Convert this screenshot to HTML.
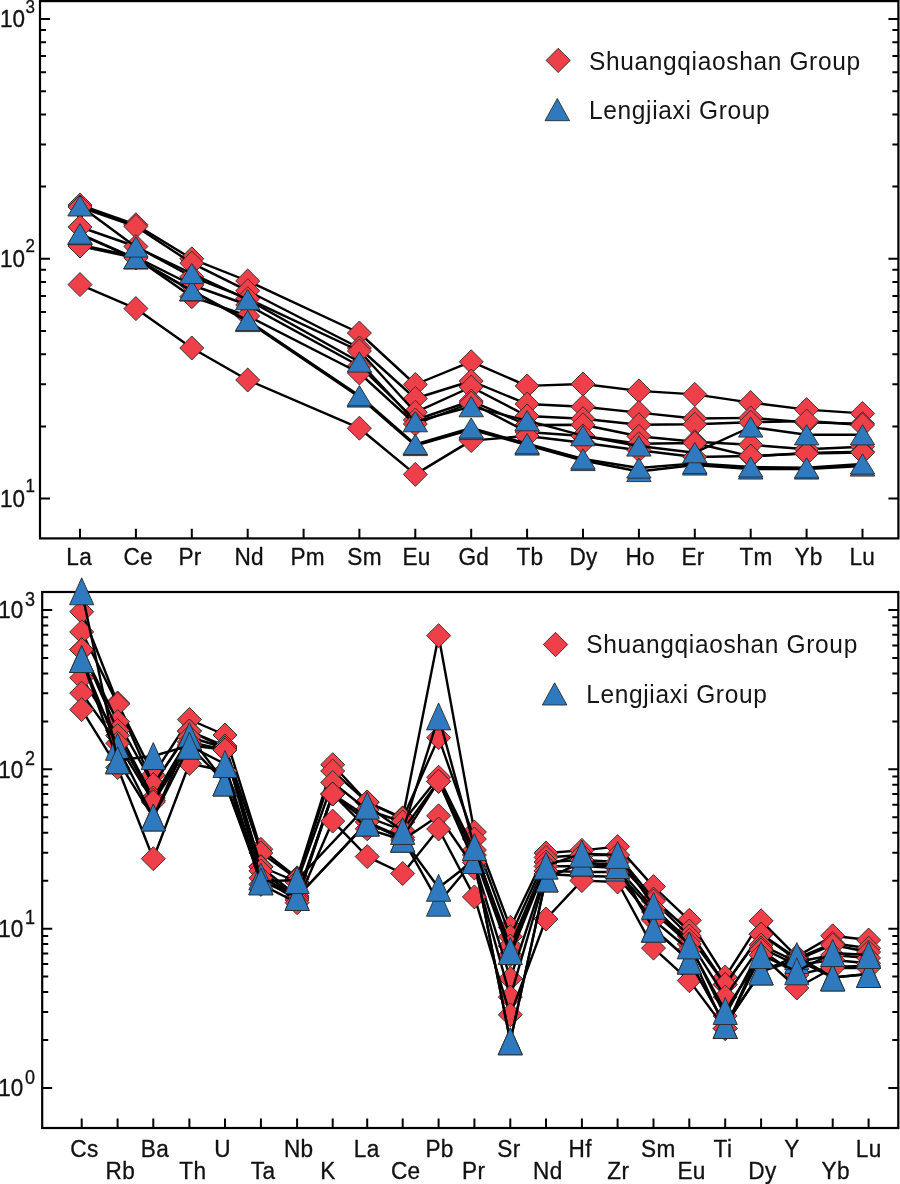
<!DOCTYPE html>
<html><head><meta charset="utf-8"><title>REE and spider diagrams</title>
<style>html,body{margin:0;padding:0;background:#fff;width:900px;height:1184px;overflow:hidden}</style>
</head><body>
<svg width="900" height="1184" viewBox="0 0 900 1184" style="position:absolute;left:0;top:0">
<rect width="900" height="1184" fill="#fff"/>
<rect x="40.0" y="1.1" width="858.4" height="537.3" fill="none" stroke="#000" stroke-width="2.2"/>
<path d="M40.0 498.6h10M898.4 498.6h-10M40.0 258.8h10M898.4 258.8h-10M40.0 19.0h10M898.4 19.0h-10M40.0 426.4h6M898.4 426.4h-6M40.0 384.2h6M898.4 384.2h-6M40.0 354.2h6M898.4 354.2h-6M40.0 331.0h6M898.4 331.0h-6M40.0 312.0h6M898.4 312.0h-6M40.0 295.9h6M898.4 295.9h-6M40.0 282.0h6M898.4 282.0h-6M40.0 269.8h6M898.4 269.8h-6M40.0 186.6h6M898.4 186.6h-6M40.0 144.4h6M898.4 144.4h-6M40.0 114.4h6M898.4 114.4h-6M40.0 91.2h6M898.4 91.2h-6M40.0 72.2h6M898.4 72.2h-6M40.0 56.1h6M898.4 56.1h-6M40.0 42.2h6M898.4 42.2h-6M40.0 30.0h6M898.4 30.0h-6" stroke="#000" stroke-width="2" fill="none"/>
<path d="M80.0 538.4v-9.6M135.9 538.4v-9.6M191.8 538.4v-9.6M247.7 538.4v-9.6M303.6 538.4v-9.6M359.4 538.4v-9.6M415.3 538.4v-9.6M471.2 538.4v-9.6M527.1 538.4v-9.6M583.0 538.4v-9.6M638.9 538.4v-9.6M694.8 538.4v-9.6M750.7 538.4v-9.6M806.6 538.4v-9.6M862.5 538.4v-9.6" stroke="#000" stroke-width="2" fill="none"/>
<rect x="42.2" y="592.0" width="856.1" height="536.0" fill="none" stroke="#000" stroke-width="2.2"/>
<path d="M42.2 1088.0h10M898.3 1088.0h-10M42.2 928.7h10M898.3 928.7h-10M42.2 769.3h10M898.3 769.3h-10M42.2 610.0h10M898.3 610.0h-10M42.2 1040.0h6M898.3 1040.0h-6M42.2 1012.0h6M898.3 1012.0h-6M42.2 992.1h6M898.3 992.1h-6M42.2 976.6h6M898.3 976.6h-6M42.2 964.0h6M898.3 964.0h-6M42.2 953.4h6M898.3 953.4h-6M42.2 944.1h6M898.3 944.1h-6M42.2 936.0h6M898.3 936.0h-6M42.2 880.7h6M898.3 880.7h-6M42.2 852.7h6M898.3 852.7h-6M42.2 832.7h6M898.3 832.7h-6M42.2 817.3h6M898.3 817.3h-6M42.2 804.7h6M898.3 804.7h-6M42.2 794.0h6M898.3 794.0h-6M42.2 784.8h6M898.3 784.8h-6M42.2 776.6h6M898.3 776.6h-6M42.2 721.4h6M898.3 721.4h-6M42.2 693.3h6M898.3 693.3h-6M42.2 673.4h6M898.3 673.4h-6M42.2 658.0h6M898.3 658.0h-6M42.2 645.4h6M898.3 645.4h-6M42.2 634.7h6M898.3 634.7h-6M42.2 625.5h6M898.3 625.5h-6M42.2 617.3h6M898.3 617.3h-6" stroke="#000" stroke-width="2" fill="none"/>
<path d="M81.7 1128.0v-9.6M117.6 1128.0v-9.6M153.3 1128.0v-9.6M189.4 1128.0v-9.6M225.0 1128.0v-9.6M260.9 1128.0v-9.6M297.1 1128.0v-9.6M332.7 1128.0v-9.6M367.2 1128.0v-9.6M402.7 1128.0v-9.6M438.6 1128.0v-9.6M474.4 1128.0v-9.6M510.3 1128.0v-9.6M546.0 1128.0v-9.6M581.9 1128.0v-9.6M617.6 1128.0v-9.6M653.5 1128.0v-9.6M689.3 1128.0v-9.6M725.2 1128.0v-9.6M761.1 1128.0v-9.6M796.8 1128.0v-9.6M832.7 1128.0v-9.6M868.6 1128.0v-9.6" stroke="#000" stroke-width="2" fill="none"/>
<g font-family="'Liberation Sans', Arial, Helvetica, sans-serif" fill="#111" stroke="#111" stroke-width="0.3">
<text transform="translate(25.00,506.70) scale(1,1.08)" font-size="22.5" text-anchor="end">10</text><text transform="translate(25.40,492.20) scale(1,1.08)" font-size="17" >1</text>
<text transform="translate(25.00,266.90) scale(1,1.08)" font-size="22.5" text-anchor="end">10</text><text transform="translate(25.40,252.40) scale(1,1.08)" font-size="17" >2</text>
<text transform="translate(25.00,27.10) scale(1,1.08)" font-size="22.5" text-anchor="end">10</text><text transform="translate(25.40,12.60) scale(1,1.08)" font-size="17" >3</text>
<text transform="translate(23.30,1096.30) scale(1,1.08)" font-size="22.5" text-anchor="end">10</text><text transform="translate(25.10,1083.50) scale(1,1.08)" font-size="18" >0</text>
<text transform="translate(23.30,936.97) scale(1,1.08)" font-size="22.5" text-anchor="end">10</text><text transform="translate(25.10,924.17) scale(1,1.08)" font-size="18" >1</text>
<text transform="translate(23.30,777.64) scale(1,1.08)" font-size="22.5" text-anchor="end">10</text><text transform="translate(25.10,764.84) scale(1,1.08)" font-size="18" >2</text>
<text transform="translate(23.30,618.31) scale(1,1.08)" font-size="22.5" text-anchor="end">10</text><text transform="translate(25.10,605.51) scale(1,1.08)" font-size="18" >3</text>
<text transform="translate(66.30,564.90) scale(1,1.07)" font-size="22.6" letter-spacing="0.4">La</text>
<text transform="translate(123.40,564.90) scale(1,1.07)" font-size="22.6" letter-spacing="0.4">Ce</text>
<text transform="translate(178.40,564.90) scale(1,1.07)" font-size="22.6" letter-spacing="0.4">Pr</text>
<text transform="translate(234.40,564.90) scale(1,1.07)" font-size="22.6" letter-spacing="0.4">Nd</text>
<text transform="translate(290.40,564.90) scale(1,1.07)" font-size="22.6" letter-spacing="0.4">Pm</text>
<text transform="translate(347.30,564.90) scale(1,1.07)" font-size="22.6" letter-spacing="0.4">Sm</text>
<text transform="translate(402.40,564.90) scale(1,1.07)" font-size="22.6" letter-spacing="0.4">Eu</text>
<text transform="translate(458.40,564.90) scale(1,1.07)" font-size="22.6" letter-spacing="0.4">Gd</text>
<text transform="translate(516.40,564.90) scale(1,1.07)" font-size="22.6" letter-spacing="0.4">Tb</text>
<text transform="translate(569.40,564.90) scale(1,1.07)" font-size="22.6" letter-spacing="0.4">Dy</text>
<text transform="translate(625.40,564.90) scale(1,1.07)" font-size="22.6" letter-spacing="0.4">Ho</text>
<text transform="translate(681.40,564.90) scale(1,1.07)" font-size="22.6" letter-spacing="0.4">Er</text>
<text transform="translate(739.40,564.90) scale(1,1.07)" font-size="22.6" letter-spacing="0.4">Tm</text>
<text transform="translate(794.40,564.90) scale(1,1.07)" font-size="22.6" letter-spacing="0.4">Yb</text>
<text transform="translate(849.40,564.90) scale(1,1.07)" font-size="22.6" letter-spacing="0.4">Lu</text>
<text transform="translate(70.20,1157.00) scale(1,1.07)" font-size="22.6" letter-spacing="0.4">Cs</text>
<text transform="translate(105.60,1179.00) scale(1,1.07)" font-size="22.6" letter-spacing="0.4">Rb</text>
<text transform="translate(140.80,1157.00) scale(1,1.07)" font-size="22.6" letter-spacing="0.4">Ba</text>
<text transform="translate(179.20,1179.00) scale(1,1.07)" font-size="22.6" letter-spacing="0.4">Th</text>
<text transform="translate(214.30,1157.00) scale(1,1.07)" font-size="22.6" letter-spacing="0.4">U</text>
<text transform="translate(250.70,1179.00) scale(1,1.07)" font-size="22.6" letter-spacing="0.4">Ta</text>
<text transform="translate(283.90,1157.00) scale(1,1.07)" font-size="22.6" letter-spacing="0.4">Nb</text>
<text transform="translate(320.30,1179.00) scale(1,1.07)" font-size="22.6" letter-spacing="0.4">K</text>
<text transform="translate(353.80,1157.00) scale(1,1.07)" font-size="22.6" letter-spacing="0.4">La</text>
<text transform="translate(390.90,1179.00) scale(1,1.07)" font-size="22.6" letter-spacing="0.4">Ce</text>
<text transform="translate(425.40,1157.00) scale(1,1.07)" font-size="22.6" letter-spacing="0.4">Pb</text>
<text transform="translate(462.10,1179.00) scale(1,1.07)" font-size="22.6" letter-spacing="0.4">Pr</text>
<text transform="translate(497.30,1157.00) scale(1,1.07)" font-size="22.6" letter-spacing="0.4">Sr</text>
<text transform="translate(533.00,1179.00) scale(1,1.07)" font-size="22.6" letter-spacing="0.4">Nd</text>
<text transform="translate(568.50,1157.00) scale(1,1.07)" font-size="22.6" letter-spacing="0.4">Hf</text>
<text transform="translate(607.20,1179.00) scale(1,1.07)" font-size="22.6" letter-spacing="0.4">Zr</text>
<text transform="translate(641.00,1157.00) scale(1,1.07)" font-size="22.6" letter-spacing="0.4">Sm</text>
<text transform="translate(677.40,1179.00) scale(1,1.07)" font-size="22.6" letter-spacing="0.4">Eu</text>
<text transform="translate(713.60,1157.00) scale(1,1.07)" font-size="22.6" letter-spacing="0.4">Ti</text>
<text transform="translate(748.30,1179.00) scale(1,1.07)" font-size="22.6" letter-spacing="0.4">Dy</text>
<text transform="translate(784.20,1157.00) scale(1,1.07)" font-size="22.6" letter-spacing="0.4">Y</text>
<text transform="translate(821.50,1179.00) scale(1,1.07)" font-size="22.6" letter-spacing="0.4">Yb</text>
<text transform="translate(855.70,1157.00) scale(1,1.07)" font-size="22.6" letter-spacing="0.4">Lu</text>
</g>
<g font-family="'Liberation Sans', Arial, Helvetica, sans-serif" fill="#151515">
<text transform="translate(589.00,69.60) scale(1,1.035)" font-size="24.5" letter-spacing="0.65">Shuangqiaoshan Group</text>
<text transform="translate(589.00,119.00) scale(1,1.035)" font-size="24.5" letter-spacing="0.65">Lengjiaxi Group</text>
<text transform="translate(586.20,653.30) scale(1,1.035)" font-size="24.5" letter-spacing="0.65">Shuangqiaoshan Group</text>
<text transform="translate(586.20,703.30) scale(1,1.035)" font-size="24.5" letter-spacing="0.65">Lengjiaxi Group</text>
</g>
<path d="M546.1 60.4L558.2 48.3L570.3 60.4L558.2 72.5Z" fill="#ef4049" stroke="#2a2a2a" stroke-width="0.9"/>
<path d="M557.3 98.5L569.5 120.7L545.0 120.7Z" fill="#2f79be" stroke="#2a2a2a" stroke-width="0.9" stroke-linejoin="miter"/>
<path d="M543.3 644.5L555.5 632.3L567.7 644.5L555.5 656.7Z" fill="#ef4049" stroke="#2a2a2a" stroke-width="0.9"/>
<path d="M554.6 682.8L566.9 705.0L542.4 705.0Z" fill="#2f79be" stroke="#2a2a2a" stroke-width="0.9" stroke-linejoin="miter"/>
<path d="M80.0 205.0L135.9 224.7L191.8 258.8L247.7 281.0L359.4 333.0L415.3 384.5L471.2 361.7L527.1 385.9L583.0 384.0L638.9 390.9L694.8 394.4L750.7 402.6L806.6 409.6L862.5 413.4" fill="none" stroke="#000" stroke-width="2.4" stroke-linejoin="round"/>
<path d="M68.0 205.0L80.0 193.0L92.0 205.0L80.0 217.0Z" fill="#ef4049" stroke="#2a2a2a" stroke-width="0.9"/>
<path d="M123.9 224.7L135.9 212.7L147.9 224.7L135.9 236.7Z" fill="#ef4049" stroke="#2a2a2a" stroke-width="0.9"/>
<path d="M179.8 258.8L191.8 246.8L203.8 258.8L191.8 270.8Z" fill="#ef4049" stroke="#2a2a2a" stroke-width="0.9"/>
<path d="M235.7 281.0L247.7 269.0L259.7 281.0L247.7 293.0Z" fill="#ef4049" stroke="#2a2a2a" stroke-width="0.9"/>
<path d="M347.4 333.0L359.4 321.0L371.4 333.0L359.4 345.0Z" fill="#ef4049" stroke="#2a2a2a" stroke-width="0.9"/>
<path d="M403.3 384.5L415.3 372.5L427.3 384.5L415.3 396.5Z" fill="#ef4049" stroke="#2a2a2a" stroke-width="0.9"/>
<path d="M459.2 361.7L471.2 349.7L483.2 361.7L471.2 373.7Z" fill="#ef4049" stroke="#2a2a2a" stroke-width="0.9"/>
<path d="M515.1 385.9L527.1 373.9L539.1 385.9L527.1 397.9Z" fill="#ef4049" stroke="#2a2a2a" stroke-width="0.9"/>
<path d="M571.0 384.0L583.0 372.0L595.0 384.0L583.0 396.0Z" fill="#ef4049" stroke="#2a2a2a" stroke-width="0.9"/>
<path d="M626.9 390.9L638.9 378.9L650.9 390.9L638.9 402.9Z" fill="#ef4049" stroke="#2a2a2a" stroke-width="0.9"/>
<path d="M682.8 394.4L694.8 382.4L706.8 394.4L694.8 406.4Z" fill="#ef4049" stroke="#2a2a2a" stroke-width="0.9"/>
<path d="M738.7 402.6L750.7 390.6L762.7 402.6L750.7 414.6Z" fill="#ef4049" stroke="#2a2a2a" stroke-width="0.9"/>
<path d="M794.6 409.6L806.6 397.6L818.6 409.6L806.6 421.6Z" fill="#ef4049" stroke="#2a2a2a" stroke-width="0.9"/>
<path d="M850.5 413.4L862.5 401.4L874.5 413.4L862.5 425.4Z" fill="#ef4049" stroke="#2a2a2a" stroke-width="0.9"/>
<path d="M80.0 207.0L135.9 226.5L191.8 263.1L247.7 290.8L359.4 348.0L415.3 398.5L471.2 381.0L527.1 404.0L583.0 406.7L638.9 412.6L694.8 418.5L750.7 417.9L806.6 422.4L862.5 423.7" fill="none" stroke="#000" stroke-width="2.4" stroke-linejoin="round"/>
<path d="M68.0 207.0L80.0 195.0L92.0 207.0L80.0 219.0Z" fill="#ef4049" stroke="#2a2a2a" stroke-width="0.9"/>
<path d="M123.9 226.5L135.9 214.5L147.9 226.5L135.9 238.5Z" fill="#ef4049" stroke="#2a2a2a" stroke-width="0.9"/>
<path d="M179.8 263.1L191.8 251.1L203.8 263.1L191.8 275.1Z" fill="#ef4049" stroke="#2a2a2a" stroke-width="0.9"/>
<path d="M235.7 290.8L247.7 278.8L259.7 290.8L247.7 302.8Z" fill="#ef4049" stroke="#2a2a2a" stroke-width="0.9"/>
<path d="M347.4 348.0L359.4 336.0L371.4 348.0L359.4 360.0Z" fill="#ef4049" stroke="#2a2a2a" stroke-width="0.9"/>
<path d="M403.3 398.5L415.3 386.5L427.3 398.5L415.3 410.5Z" fill="#ef4049" stroke="#2a2a2a" stroke-width="0.9"/>
<path d="M459.2 381.0L471.2 369.0L483.2 381.0L471.2 393.0Z" fill="#ef4049" stroke="#2a2a2a" stroke-width="0.9"/>
<path d="M515.1 404.0L527.1 392.0L539.1 404.0L527.1 416.0Z" fill="#ef4049" stroke="#2a2a2a" stroke-width="0.9"/>
<path d="M571.0 406.7L583.0 394.7L595.0 406.7L583.0 418.7Z" fill="#ef4049" stroke="#2a2a2a" stroke-width="0.9"/>
<path d="M626.9 412.6L638.9 400.6L650.9 412.6L638.9 424.6Z" fill="#ef4049" stroke="#2a2a2a" stroke-width="0.9"/>
<path d="M682.8 418.5L694.8 406.5L706.8 418.5L694.8 430.5Z" fill="#ef4049" stroke="#2a2a2a" stroke-width="0.9"/>
<path d="M738.7 417.9L750.7 405.9L762.7 417.9L750.7 429.9Z" fill="#ef4049" stroke="#2a2a2a" stroke-width="0.9"/>
<path d="M794.6 422.4L806.6 410.4L818.6 422.4L806.6 434.4Z" fill="#ef4049" stroke="#2a2a2a" stroke-width="0.9"/>
<path d="M850.5 423.7L862.5 411.7L874.5 423.7L862.5 435.7Z" fill="#ef4049" stroke="#2a2a2a" stroke-width="0.9"/>
<path d="M80.0 227.0L135.9 246.5L191.8 276.7L247.7 298.7L359.4 351.0L415.3 412.3L471.2 387.0L527.1 416.0L583.0 418.7L638.9 424.7L694.8 424.3L750.7 422.2L806.6 421.0L862.5 425.0" fill="none" stroke="#000" stroke-width="2.4" stroke-linejoin="round"/>
<path d="M68.0 227.0L80.0 215.0L92.0 227.0L80.0 239.0Z" fill="#ef4049" stroke="#2a2a2a" stroke-width="0.9"/>
<path d="M123.9 246.5L135.9 234.5L147.9 246.5L135.9 258.5Z" fill="#ef4049" stroke="#2a2a2a" stroke-width="0.9"/>
<path d="M179.8 276.7L191.8 264.7L203.8 276.7L191.8 288.7Z" fill="#ef4049" stroke="#2a2a2a" stroke-width="0.9"/>
<path d="M235.7 298.7L247.7 286.7L259.7 298.7L247.7 310.7Z" fill="#ef4049" stroke="#2a2a2a" stroke-width="0.9"/>
<path d="M347.4 351.0L359.4 339.0L371.4 351.0L359.4 363.0Z" fill="#ef4049" stroke="#2a2a2a" stroke-width="0.9"/>
<path d="M403.3 412.3L415.3 400.3L427.3 412.3L415.3 424.3Z" fill="#ef4049" stroke="#2a2a2a" stroke-width="0.9"/>
<path d="M459.2 387.0L471.2 375.0L483.2 387.0L471.2 399.0Z" fill="#ef4049" stroke="#2a2a2a" stroke-width="0.9"/>
<path d="M515.1 416.0L527.1 404.0L539.1 416.0L527.1 428.0Z" fill="#ef4049" stroke="#2a2a2a" stroke-width="0.9"/>
<path d="M571.0 418.7L583.0 406.7L595.0 418.7L583.0 430.7Z" fill="#ef4049" stroke="#2a2a2a" stroke-width="0.9"/>
<path d="M626.9 424.7L638.9 412.7L650.9 424.7L638.9 436.7Z" fill="#ef4049" stroke="#2a2a2a" stroke-width="0.9"/>
<path d="M682.8 424.3L694.8 412.3L706.8 424.3L694.8 436.3Z" fill="#ef4049" stroke="#2a2a2a" stroke-width="0.9"/>
<path d="M738.7 422.2L750.7 410.2L762.7 422.2L750.7 434.2Z" fill="#ef4049" stroke="#2a2a2a" stroke-width="0.9"/>
<path d="M794.6 421.0L806.6 409.0L818.6 421.0L806.6 433.0Z" fill="#ef4049" stroke="#2a2a2a" stroke-width="0.9"/>
<path d="M850.5 425.0L862.5 413.0L874.5 425.0L862.5 437.0Z" fill="#ef4049" stroke="#2a2a2a" stroke-width="0.9"/>
<path d="M80.0 244.6L135.9 257.0L191.8 285.0L247.7 305.0L359.4 366.0L415.3 420.0L471.2 401.0L527.1 425.0L583.0 424.8L638.9 436.3L694.8 441.7L750.7 444.8L806.6 449.2L862.5 446.7" fill="none" stroke="#000" stroke-width="2.4" stroke-linejoin="round"/>
<path d="M68.0 244.6L80.0 232.6L92.0 244.6L80.0 256.6Z" fill="#ef4049" stroke="#2a2a2a" stroke-width="0.9"/>
<path d="M123.9 257.0L135.9 245.0L147.9 257.0L135.9 269.0Z" fill="#ef4049" stroke="#2a2a2a" stroke-width="0.9"/>
<path d="M179.8 285.0L191.8 273.0L203.8 285.0L191.8 297.0Z" fill="#ef4049" stroke="#2a2a2a" stroke-width="0.9"/>
<path d="M235.7 305.0L247.7 293.0L259.7 305.0L247.7 317.0Z" fill="#ef4049" stroke="#2a2a2a" stroke-width="0.9"/>
<path d="M347.4 366.0L359.4 354.0L371.4 366.0L359.4 378.0Z" fill="#ef4049" stroke="#2a2a2a" stroke-width="0.9"/>
<path d="M403.3 420.0L415.3 408.0L427.3 420.0L415.3 432.0Z" fill="#ef4049" stroke="#2a2a2a" stroke-width="0.9"/>
<path d="M459.2 401.0L471.2 389.0L483.2 401.0L471.2 413.0Z" fill="#ef4049" stroke="#2a2a2a" stroke-width="0.9"/>
<path d="M515.1 425.0L527.1 413.0L539.1 425.0L527.1 437.0Z" fill="#ef4049" stroke="#2a2a2a" stroke-width="0.9"/>
<path d="M571.0 424.8L583.0 412.8L595.0 424.8L583.0 436.8Z" fill="#ef4049" stroke="#2a2a2a" stroke-width="0.9"/>
<path d="M626.9 436.3L638.9 424.3L650.9 436.3L638.9 448.3Z" fill="#ef4049" stroke="#2a2a2a" stroke-width="0.9"/>
<path d="M682.8 441.7L694.8 429.7L706.8 441.7L694.8 453.7Z" fill="#ef4049" stroke="#2a2a2a" stroke-width="0.9"/>
<path d="M738.7 444.8L750.7 432.8L762.7 444.8L750.7 456.8Z" fill="#ef4049" stroke="#2a2a2a" stroke-width="0.9"/>
<path d="M794.6 449.2L806.6 437.2L818.6 449.2L806.6 461.2Z" fill="#ef4049" stroke="#2a2a2a" stroke-width="0.9"/>
<path d="M850.5 446.7L862.5 434.7L874.5 446.7L862.5 458.7Z" fill="#ef4049" stroke="#2a2a2a" stroke-width="0.9"/>
<path d="M80.0 246.0L135.9 258.0L191.8 296.7L247.7 316.0L359.4 373.0L415.3 424.0L471.2 403.0L527.1 432.0L583.0 436.0L638.9 443.7L694.8 443.0L750.7 456.4L806.6 453.0L862.5 451.8" fill="none" stroke="#000" stroke-width="2.4" stroke-linejoin="round"/>
<path d="M68.0 246.0L80.0 234.0L92.0 246.0L80.0 258.0Z" fill="#ef4049" stroke="#2a2a2a" stroke-width="0.9"/>
<path d="M123.9 258.0L135.9 246.0L147.9 258.0L135.9 270.0Z" fill="#ef4049" stroke="#2a2a2a" stroke-width="0.9"/>
<path d="M179.8 296.7L191.8 284.7L203.8 296.7L191.8 308.7Z" fill="#ef4049" stroke="#2a2a2a" stroke-width="0.9"/>
<path d="M235.7 316.0L247.7 304.0L259.7 316.0L247.7 328.0Z" fill="#ef4049" stroke="#2a2a2a" stroke-width="0.9"/>
<path d="M347.4 373.0L359.4 361.0L371.4 373.0L359.4 385.0Z" fill="#ef4049" stroke="#2a2a2a" stroke-width="0.9"/>
<path d="M403.3 424.0L415.3 412.0L427.3 424.0L415.3 436.0Z" fill="#ef4049" stroke="#2a2a2a" stroke-width="0.9"/>
<path d="M459.2 403.0L471.2 391.0L483.2 403.0L471.2 415.0Z" fill="#ef4049" stroke="#2a2a2a" stroke-width="0.9"/>
<path d="M515.1 432.0L527.1 420.0L539.1 432.0L527.1 444.0Z" fill="#ef4049" stroke="#2a2a2a" stroke-width="0.9"/>
<path d="M571.0 436.0L583.0 424.0L595.0 436.0L583.0 448.0Z" fill="#ef4049" stroke="#2a2a2a" stroke-width="0.9"/>
<path d="M626.9 443.7L638.9 431.7L650.9 443.7L638.9 455.7Z" fill="#ef4049" stroke="#2a2a2a" stroke-width="0.9"/>
<path d="M682.8 443.0L694.8 431.0L706.8 443.0L694.8 455.0Z" fill="#ef4049" stroke="#2a2a2a" stroke-width="0.9"/>
<path d="M738.7 456.4L750.7 444.4L762.7 456.4L750.7 468.4Z" fill="#ef4049" stroke="#2a2a2a" stroke-width="0.9"/>
<path d="M794.6 453.0L806.6 441.0L818.6 453.0L806.6 465.0Z" fill="#ef4049" stroke="#2a2a2a" stroke-width="0.9"/>
<path d="M850.5 451.8L862.5 439.8L874.5 451.8L862.5 463.8Z" fill="#ef4049" stroke="#2a2a2a" stroke-width="0.9"/>
<path d="M80.0 284.6L135.9 308.6L191.8 348.0L247.7 380.0L359.4 428.2L415.3 474.4L471.2 440.6L527.1 436.0L583.0 442.7L638.9 450.3L694.8 457.0L750.7 456.0L806.6 453.5L862.5 452.5" fill="none" stroke="#000" stroke-width="2.4" stroke-linejoin="round"/>
<path d="M68.0 284.6L80.0 272.6L92.0 284.6L80.0 296.6Z" fill="#ef4049" stroke="#2a2a2a" stroke-width="0.9"/>
<path d="M123.9 308.6L135.9 296.6L147.9 308.6L135.9 320.6Z" fill="#ef4049" stroke="#2a2a2a" stroke-width="0.9"/>
<path d="M179.8 348.0L191.8 336.0L203.8 348.0L191.8 360.0Z" fill="#ef4049" stroke="#2a2a2a" stroke-width="0.9"/>
<path d="M235.7 380.0L247.7 368.0L259.7 380.0L247.7 392.0Z" fill="#ef4049" stroke="#2a2a2a" stroke-width="0.9"/>
<path d="M347.4 428.2L359.4 416.2L371.4 428.2L359.4 440.2Z" fill="#ef4049" stroke="#2a2a2a" stroke-width="0.9"/>
<path d="M403.3 474.4L415.3 462.4L427.3 474.4L415.3 486.4Z" fill="#ef4049" stroke="#2a2a2a" stroke-width="0.9"/>
<path d="M459.2 440.6L471.2 428.6L483.2 440.6L471.2 452.6Z" fill="#ef4049" stroke="#2a2a2a" stroke-width="0.9"/>
<path d="M515.1 436.0L527.1 424.0L539.1 436.0L527.1 448.0Z" fill="#ef4049" stroke="#2a2a2a" stroke-width="0.9"/>
<path d="M571.0 442.7L583.0 430.7L595.0 442.7L583.0 454.7Z" fill="#ef4049" stroke="#2a2a2a" stroke-width="0.9"/>
<path d="M626.9 450.3L638.9 438.3L650.9 450.3L638.9 462.3Z" fill="#ef4049" stroke="#2a2a2a" stroke-width="0.9"/>
<path d="M682.8 457.0L694.8 445.0L706.8 457.0L694.8 469.0Z" fill="#ef4049" stroke="#2a2a2a" stroke-width="0.9"/>
<path d="M738.7 456.0L750.7 444.0L762.7 456.0L750.7 468.0Z" fill="#ef4049" stroke="#2a2a2a" stroke-width="0.9"/>
<path d="M794.6 453.5L806.6 441.5L818.6 453.5L806.6 465.5Z" fill="#ef4049" stroke="#2a2a2a" stroke-width="0.9"/>
<path d="M850.5 452.5L862.5 440.5L874.5 452.5L862.5 464.5Z" fill="#ef4049" stroke="#2a2a2a" stroke-width="0.9"/>
<path d="M80.0 234.5L135.9 259.0L191.8 291.0L247.7 321.5L359.4 397.0L415.3 445.5L471.2 429.5L527.1 445.0L583.0 460.5L638.9 471.5L694.8 465.0L750.7 469.0L806.6 469.0L862.5 466.0" fill="none" stroke="#000" stroke-width="2.4" stroke-linejoin="round"/>
<path d="M80.0 224.3L92.2 244.7L67.8 244.7Z" fill="#2f79be" stroke="#2a2a2a" stroke-width="0.9" stroke-linejoin="miter"/>
<path d="M135.9 248.8L148.1 269.1L123.7 269.1Z" fill="#2f79be" stroke="#2a2a2a" stroke-width="0.9" stroke-linejoin="miter"/>
<path d="M191.8 280.9L204.0 301.1L179.6 301.1Z" fill="#2f79be" stroke="#2a2a2a" stroke-width="0.9" stroke-linejoin="miter"/>
<path d="M247.7 311.4L259.9 331.6L235.5 331.6Z" fill="#2f79be" stroke="#2a2a2a" stroke-width="0.9" stroke-linejoin="miter"/>
<path d="M359.4 386.9L371.6 407.1L347.2 407.1Z" fill="#2f79be" stroke="#2a2a2a" stroke-width="0.9" stroke-linejoin="miter"/>
<path d="M415.3 435.4L427.5 455.6L403.1 455.6Z" fill="#2f79be" stroke="#2a2a2a" stroke-width="0.9" stroke-linejoin="miter"/>
<path d="M471.2 419.4L483.4 439.6L459.0 439.6Z" fill="#2f79be" stroke="#2a2a2a" stroke-width="0.9" stroke-linejoin="miter"/>
<path d="M527.1 434.9L539.3 455.1L514.9 455.1Z" fill="#2f79be" stroke="#2a2a2a" stroke-width="0.9" stroke-linejoin="miter"/>
<path d="M583.0 450.4L595.2 470.6L570.8 470.6Z" fill="#2f79be" stroke="#2a2a2a" stroke-width="0.9" stroke-linejoin="miter"/>
<path d="M638.9 461.4L651.1 481.6L626.7 481.6Z" fill="#2f79be" stroke="#2a2a2a" stroke-width="0.9" stroke-linejoin="miter"/>
<path d="M694.8 454.9L707.0 475.1L682.6 475.1Z" fill="#2f79be" stroke="#2a2a2a" stroke-width="0.9" stroke-linejoin="miter"/>
<path d="M750.7 458.9L762.9 479.1L738.5 479.1Z" fill="#2f79be" stroke="#2a2a2a" stroke-width="0.9" stroke-linejoin="miter"/>
<path d="M806.6 458.9L818.8 479.1L794.4 479.1Z" fill="#2f79be" stroke="#2a2a2a" stroke-width="0.9" stroke-linejoin="miter"/>
<path d="M862.5 455.9L874.7 476.1L850.3 476.1Z" fill="#2f79be" stroke="#2a2a2a" stroke-width="0.9" stroke-linejoin="miter"/>
<path d="M80.0 233.8L135.9 258.5L191.8 290.5L247.7 320.5L359.4 395.7L415.3 444.4L471.2 428.0L527.1 443.7L583.0 459.0L638.9 468.0L694.8 463.4L750.7 467.0L806.6 467.8L862.5 464.0" fill="none" stroke="#000" stroke-width="2.4" stroke-linejoin="round"/>
<path d="M80.0 223.7L92.2 244.0L67.8 244.0Z" fill="#2f79be" stroke="#2a2a2a" stroke-width="0.9" stroke-linejoin="miter"/>
<path d="M135.9 248.3L148.1 268.6L123.7 268.6Z" fill="#2f79be" stroke="#2a2a2a" stroke-width="0.9" stroke-linejoin="miter"/>
<path d="M191.8 280.4L204.0 300.6L179.6 300.6Z" fill="#2f79be" stroke="#2a2a2a" stroke-width="0.9" stroke-linejoin="miter"/>
<path d="M247.7 310.4L259.9 330.6L235.5 330.6Z" fill="#2f79be" stroke="#2a2a2a" stroke-width="0.9" stroke-linejoin="miter"/>
<path d="M359.4 385.6L371.6 405.8L347.2 405.8Z" fill="#2f79be" stroke="#2a2a2a" stroke-width="0.9" stroke-linejoin="miter"/>
<path d="M415.3 434.2L427.5 454.5L403.1 454.5Z" fill="#2f79be" stroke="#2a2a2a" stroke-width="0.9" stroke-linejoin="miter"/>
<path d="M471.2 417.9L483.4 438.1L459.0 438.1Z" fill="#2f79be" stroke="#2a2a2a" stroke-width="0.9" stroke-linejoin="miter"/>
<path d="M527.1 433.6L539.3 453.8L514.9 453.8Z" fill="#2f79be" stroke="#2a2a2a" stroke-width="0.9" stroke-linejoin="miter"/>
<path d="M583.0 448.9L595.2 469.1L570.8 469.1Z" fill="#2f79be" stroke="#2a2a2a" stroke-width="0.9" stroke-linejoin="miter"/>
<path d="M638.9 457.9L651.1 478.1L626.7 478.1Z" fill="#2f79be" stroke="#2a2a2a" stroke-width="0.9" stroke-linejoin="miter"/>
<path d="M694.8 453.2L707.0 473.5L682.6 473.5Z" fill="#2f79be" stroke="#2a2a2a" stroke-width="0.9" stroke-linejoin="miter"/>
<path d="M750.7 456.9L762.9 477.1L738.5 477.1Z" fill="#2f79be" stroke="#2a2a2a" stroke-width="0.9" stroke-linejoin="miter"/>
<path d="M806.6 457.7L818.8 477.9L794.4 477.9Z" fill="#2f79be" stroke="#2a2a2a" stroke-width="0.9" stroke-linejoin="miter"/>
<path d="M862.5 453.9L874.7 474.1L850.3 474.1Z" fill="#2f79be" stroke="#2a2a2a" stroke-width="0.9" stroke-linejoin="miter"/>
<path d="M80.0 205.8L135.9 247.0L191.8 273.5L247.7 299.6L359.4 362.0L415.3 421.7L471.2 406.6L527.1 420.7L583.0 435.7L638.9 446.0L694.8 452.7L750.7 427.0L806.6 434.8L862.5 434.8" fill="none" stroke="#000" stroke-width="2.4" stroke-linejoin="round"/>
<path d="M80.0 195.7L92.2 216.0L67.8 216.0Z" fill="#2f79be" stroke="#2a2a2a" stroke-width="0.9" stroke-linejoin="miter"/>
<path d="M135.9 236.8L148.1 257.1L123.7 257.1Z" fill="#2f79be" stroke="#2a2a2a" stroke-width="0.9" stroke-linejoin="miter"/>
<path d="M191.8 263.4L204.0 283.6L179.6 283.6Z" fill="#2f79be" stroke="#2a2a2a" stroke-width="0.9" stroke-linejoin="miter"/>
<path d="M247.7 289.5L259.9 309.8L235.5 309.8Z" fill="#2f79be" stroke="#2a2a2a" stroke-width="0.9" stroke-linejoin="miter"/>
<path d="M359.4 351.9L371.6 372.1L347.2 372.1Z" fill="#2f79be" stroke="#2a2a2a" stroke-width="0.9" stroke-linejoin="miter"/>
<path d="M415.3 411.6L427.5 431.8L403.1 431.8Z" fill="#2f79be" stroke="#2a2a2a" stroke-width="0.9" stroke-linejoin="miter"/>
<path d="M471.2 396.5L483.4 416.8L459.0 416.8Z" fill="#2f79be" stroke="#2a2a2a" stroke-width="0.9" stroke-linejoin="miter"/>
<path d="M527.1 410.6L539.3 430.8L514.9 430.8Z" fill="#2f79be" stroke="#2a2a2a" stroke-width="0.9" stroke-linejoin="miter"/>
<path d="M583.0 425.6L595.2 445.8L570.8 445.8Z" fill="#2f79be" stroke="#2a2a2a" stroke-width="0.9" stroke-linejoin="miter"/>
<path d="M638.9 435.9L651.1 456.1L626.7 456.1Z" fill="#2f79be" stroke="#2a2a2a" stroke-width="0.9" stroke-linejoin="miter"/>
<path d="M694.8 442.6L707.0 462.8L682.6 462.8Z" fill="#2f79be" stroke="#2a2a2a" stroke-width="0.9" stroke-linejoin="miter"/>
<path d="M750.7 416.9L762.9 437.1L738.5 437.1Z" fill="#2f79be" stroke="#2a2a2a" stroke-width="0.9" stroke-linejoin="miter"/>
<path d="M806.6 424.7L818.8 444.9L794.4 444.9Z" fill="#2f79be" stroke="#2a2a2a" stroke-width="0.9" stroke-linejoin="miter"/>
<path d="M862.5 424.7L874.7 444.9L850.3 444.9Z" fill="#2f79be" stroke="#2a2a2a" stroke-width="0.9" stroke-linejoin="miter"/>
<path d="M81.7 611.7L117.6 703.0L153.3 775.0L189.4 719.5L225.0 735.0L260.9 849.3L297.1 877.8L332.7 764.7L367.2 802.1L402.7 817.8L438.6 635.7L474.4 832.0L510.3 927.4L546.0 853.0L581.9 850.4L617.6 846.6L653.5 886.6L689.3 920.3L725.2 977.0L761.1 920.8L796.8 956.6L832.7 935.8L868.6 940.0" fill="none" stroke="#000" stroke-width="2.4" stroke-linejoin="round"/>
<path d="M69.7 611.7L81.7 599.7L93.7 611.7L81.7 623.7Z" fill="#ef4049" stroke="#2a2a2a" stroke-width="0.9"/>
<path d="M105.6 703.0L117.6 691.0L129.6 703.0L117.6 715.0Z" fill="#ef4049" stroke="#2a2a2a" stroke-width="0.9"/>
<path d="M141.3 775.0L153.3 763.0L165.3 775.0L153.3 787.0Z" fill="#ef4049" stroke="#2a2a2a" stroke-width="0.9"/>
<path d="M177.4 719.5L189.4 707.5L201.4 719.5L189.4 731.5Z" fill="#ef4049" stroke="#2a2a2a" stroke-width="0.9"/>
<path d="M213.0 735.0L225.0 723.0L237.0 735.0L225.0 747.0Z" fill="#ef4049" stroke="#2a2a2a" stroke-width="0.9"/>
<path d="M248.9 849.3L260.9 837.3L272.9 849.3L260.9 861.3Z" fill="#ef4049" stroke="#2a2a2a" stroke-width="0.9"/>
<path d="M285.1 877.8L297.1 865.8L309.1 877.8L297.1 889.8Z" fill="#ef4049" stroke="#2a2a2a" stroke-width="0.9"/>
<path d="M320.7 764.7L332.7 752.7L344.7 764.7L332.7 776.7Z" fill="#ef4049" stroke="#2a2a2a" stroke-width="0.9"/>
<path d="M355.2 802.1L367.2 790.1L379.2 802.1L367.2 814.1Z" fill="#ef4049" stroke="#2a2a2a" stroke-width="0.9"/>
<path d="M390.7 817.8L402.7 805.8L414.7 817.8L402.7 829.8Z" fill="#ef4049" stroke="#2a2a2a" stroke-width="0.9"/>
<path d="M426.6 635.7L438.6 623.7L450.6 635.7L438.6 647.7Z" fill="#ef4049" stroke="#2a2a2a" stroke-width="0.9"/>
<path d="M462.4 832.0L474.4 820.0L486.4 832.0L474.4 844.0Z" fill="#ef4049" stroke="#2a2a2a" stroke-width="0.9"/>
<path d="M498.3 927.4L510.3 915.4L522.3 927.4L510.3 939.4Z" fill="#ef4049" stroke="#2a2a2a" stroke-width="0.9"/>
<path d="M534.0 853.0L546.0 841.0L558.0 853.0L546.0 865.0Z" fill="#ef4049" stroke="#2a2a2a" stroke-width="0.9"/>
<path d="M569.9 850.4L581.9 838.4L593.9 850.4L581.9 862.4Z" fill="#ef4049" stroke="#2a2a2a" stroke-width="0.9"/>
<path d="M605.6 846.6L617.6 834.6L629.6 846.6L617.6 858.6Z" fill="#ef4049" stroke="#2a2a2a" stroke-width="0.9"/>
<path d="M641.5 886.6L653.5 874.6L665.5 886.6L653.5 898.6Z" fill="#ef4049" stroke="#2a2a2a" stroke-width="0.9"/>
<path d="M677.3 920.3L689.3 908.3L701.3 920.3L689.3 932.3Z" fill="#ef4049" stroke="#2a2a2a" stroke-width="0.9"/>
<path d="M713.2 977.0L725.2 965.0L737.2 977.0L725.2 989.0Z" fill="#ef4049" stroke="#2a2a2a" stroke-width="0.9"/>
<path d="M749.1 920.8L761.1 908.8L773.1 920.8L761.1 932.8Z" fill="#ef4049" stroke="#2a2a2a" stroke-width="0.9"/>
<path d="M784.8 956.6L796.8 944.6L808.8 956.6L796.8 968.6Z" fill="#ef4049" stroke="#2a2a2a" stroke-width="0.9"/>
<path d="M820.7 935.8L832.7 923.8L844.7 935.8L832.7 947.8Z" fill="#ef4049" stroke="#2a2a2a" stroke-width="0.9"/>
<path d="M856.6 940.0L868.6 928.0L880.6 940.0L868.6 952.0Z" fill="#ef4049" stroke="#2a2a2a" stroke-width="0.9"/>
<path d="M81.7 631.9L117.6 704.0L153.3 784.7L189.4 731.0L225.0 746.0L260.9 852.9L297.1 879.0L332.7 771.0L367.2 802.1L402.7 818.6L438.6 737.7L474.4 839.0L510.3 936.7L546.0 857.5L581.9 855.0L617.6 855.0L653.5 899.0L689.3 931.0L725.2 984.5L761.1 934.2L796.8 958.3L832.7 943.3L868.6 948.3" fill="none" stroke="#000" stroke-width="2.4" stroke-linejoin="round"/>
<path d="M69.7 631.9L81.7 619.9L93.7 631.9L81.7 643.9Z" fill="#ef4049" stroke="#2a2a2a" stroke-width="0.9"/>
<path d="M105.6 704.0L117.6 692.0L129.6 704.0L117.6 716.0Z" fill="#ef4049" stroke="#2a2a2a" stroke-width="0.9"/>
<path d="M141.3 784.7L153.3 772.7L165.3 784.7L153.3 796.7Z" fill="#ef4049" stroke="#2a2a2a" stroke-width="0.9"/>
<path d="M177.4 731.0L189.4 719.0L201.4 731.0L189.4 743.0Z" fill="#ef4049" stroke="#2a2a2a" stroke-width="0.9"/>
<path d="M213.0 746.0L225.0 734.0L237.0 746.0L225.0 758.0Z" fill="#ef4049" stroke="#2a2a2a" stroke-width="0.9"/>
<path d="M248.9 852.9L260.9 840.9L272.9 852.9L260.9 864.9Z" fill="#ef4049" stroke="#2a2a2a" stroke-width="0.9"/>
<path d="M285.1 879.0L297.1 867.0L309.1 879.0L297.1 891.0Z" fill="#ef4049" stroke="#2a2a2a" stroke-width="0.9"/>
<path d="M320.7 771.0L332.7 759.0L344.7 771.0L332.7 783.0Z" fill="#ef4049" stroke="#2a2a2a" stroke-width="0.9"/>
<path d="M355.2 802.1L367.2 790.1L379.2 802.1L367.2 814.1Z" fill="#ef4049" stroke="#2a2a2a" stroke-width="0.9"/>
<path d="M390.7 818.6L402.7 806.6L414.7 818.6L402.7 830.6Z" fill="#ef4049" stroke="#2a2a2a" stroke-width="0.9"/>
<path d="M426.6 737.7L438.6 725.7L450.6 737.7L438.6 749.7Z" fill="#ef4049" stroke="#2a2a2a" stroke-width="0.9"/>
<path d="M462.4 839.0L474.4 827.0L486.4 839.0L474.4 851.0Z" fill="#ef4049" stroke="#2a2a2a" stroke-width="0.9"/>
<path d="M498.3 936.7L510.3 924.7L522.3 936.7L510.3 948.7Z" fill="#ef4049" stroke="#2a2a2a" stroke-width="0.9"/>
<path d="M534.0 857.5L546.0 845.5L558.0 857.5L546.0 869.5Z" fill="#ef4049" stroke="#2a2a2a" stroke-width="0.9"/>
<path d="M569.9 855.0L581.9 843.0L593.9 855.0L581.9 867.0Z" fill="#ef4049" stroke="#2a2a2a" stroke-width="0.9"/>
<path d="M605.6 855.0L617.6 843.0L629.6 855.0L617.6 867.0Z" fill="#ef4049" stroke="#2a2a2a" stroke-width="0.9"/>
<path d="M641.5 899.0L653.5 887.0L665.5 899.0L653.5 911.0Z" fill="#ef4049" stroke="#2a2a2a" stroke-width="0.9"/>
<path d="M677.3 931.0L689.3 919.0L701.3 931.0L689.3 943.0Z" fill="#ef4049" stroke="#2a2a2a" stroke-width="0.9"/>
<path d="M713.2 984.5L725.2 972.5L737.2 984.5L725.2 996.5Z" fill="#ef4049" stroke="#2a2a2a" stroke-width="0.9"/>
<path d="M749.1 934.2L761.1 922.2L773.1 934.2L761.1 946.2Z" fill="#ef4049" stroke="#2a2a2a" stroke-width="0.9"/>
<path d="M784.8 958.3L796.8 946.3L808.8 958.3L796.8 970.3Z" fill="#ef4049" stroke="#2a2a2a" stroke-width="0.9"/>
<path d="M820.7 943.3L832.7 931.3L844.7 943.3L832.7 955.3Z" fill="#ef4049" stroke="#2a2a2a" stroke-width="0.9"/>
<path d="M856.6 948.3L868.6 936.3L880.6 948.3L868.6 960.3Z" fill="#ef4049" stroke="#2a2a2a" stroke-width="0.9"/>
<path d="M81.7 649.7L117.6 721.7L153.3 784.7L189.4 731.0L225.0 748.0L260.9 866.5L297.1 882.0L332.7 782.5L367.2 810.0L402.7 822.0L438.6 777.2L474.4 850.0L510.3 946.0L546.0 862.0L581.9 860.0L617.6 862.0L653.5 901.0L689.3 936.0L725.2 984.5L761.1 934.2L796.8 960.0L832.7 945.0L868.6 952.0" fill="none" stroke="#000" stroke-width="2.4" stroke-linejoin="round"/>
<path d="M69.7 649.7L81.7 637.7L93.7 649.7L81.7 661.7Z" fill="#ef4049" stroke="#2a2a2a" stroke-width="0.9"/>
<path d="M105.6 721.7L117.6 709.7L129.6 721.7L117.6 733.7Z" fill="#ef4049" stroke="#2a2a2a" stroke-width="0.9"/>
<path d="M141.3 784.7L153.3 772.7L165.3 784.7L153.3 796.7Z" fill="#ef4049" stroke="#2a2a2a" stroke-width="0.9"/>
<path d="M177.4 731.0L189.4 719.0L201.4 731.0L189.4 743.0Z" fill="#ef4049" stroke="#2a2a2a" stroke-width="0.9"/>
<path d="M213.0 748.0L225.0 736.0L237.0 748.0L225.0 760.0Z" fill="#ef4049" stroke="#2a2a2a" stroke-width="0.9"/>
<path d="M248.9 866.5L260.9 854.5L272.9 866.5L260.9 878.5Z" fill="#ef4049" stroke="#2a2a2a" stroke-width="0.9"/>
<path d="M285.1 882.0L297.1 870.0L309.1 882.0L297.1 894.0Z" fill="#ef4049" stroke="#2a2a2a" stroke-width="0.9"/>
<path d="M320.7 782.5L332.7 770.5L344.7 782.5L332.7 794.5Z" fill="#ef4049" stroke="#2a2a2a" stroke-width="0.9"/>
<path d="M355.2 810.0L367.2 798.0L379.2 810.0L367.2 822.0Z" fill="#ef4049" stroke="#2a2a2a" stroke-width="0.9"/>
<path d="M390.7 822.0L402.7 810.0L414.7 822.0L402.7 834.0Z" fill="#ef4049" stroke="#2a2a2a" stroke-width="0.9"/>
<path d="M426.6 777.2L438.6 765.2L450.6 777.2L438.6 789.2Z" fill="#ef4049" stroke="#2a2a2a" stroke-width="0.9"/>
<path d="M462.4 850.0L474.4 838.0L486.4 850.0L474.4 862.0Z" fill="#ef4049" stroke="#2a2a2a" stroke-width="0.9"/>
<path d="M498.3 946.0L510.3 934.0L522.3 946.0L510.3 958.0Z" fill="#ef4049" stroke="#2a2a2a" stroke-width="0.9"/>
<path d="M534.0 862.0L546.0 850.0L558.0 862.0L546.0 874.0Z" fill="#ef4049" stroke="#2a2a2a" stroke-width="0.9"/>
<path d="M569.9 860.0L581.9 848.0L593.9 860.0L581.9 872.0Z" fill="#ef4049" stroke="#2a2a2a" stroke-width="0.9"/>
<path d="M605.6 862.0L617.6 850.0L629.6 862.0L617.6 874.0Z" fill="#ef4049" stroke="#2a2a2a" stroke-width="0.9"/>
<path d="M641.5 901.0L653.5 889.0L665.5 901.0L653.5 913.0Z" fill="#ef4049" stroke="#2a2a2a" stroke-width="0.9"/>
<path d="M677.3 936.0L689.3 924.0L701.3 936.0L689.3 948.0Z" fill="#ef4049" stroke="#2a2a2a" stroke-width="0.9"/>
<path d="M713.2 984.5L725.2 972.5L737.2 984.5L725.2 996.5Z" fill="#ef4049" stroke="#2a2a2a" stroke-width="0.9"/>
<path d="M749.1 934.2L761.1 922.2L773.1 934.2L761.1 946.2Z" fill="#ef4049" stroke="#2a2a2a" stroke-width="0.9"/>
<path d="M784.8 960.0L796.8 948.0L808.8 960.0L796.8 972.0Z" fill="#ef4049" stroke="#2a2a2a" stroke-width="0.9"/>
<path d="M820.7 945.0L832.7 933.0L844.7 945.0L832.7 957.0Z" fill="#ef4049" stroke="#2a2a2a" stroke-width="0.9"/>
<path d="M856.6 952.0L868.6 940.0L880.6 952.0L868.6 964.0Z" fill="#ef4049" stroke="#2a2a2a" stroke-width="0.9"/>
<path d="M81.7 649.7L117.6 730.5L153.3 798.0L189.4 737.0L225.0 748.0L260.9 867.0L297.1 896.0L332.7 794.0L367.2 817.0L402.7 830.3L438.6 781.3L474.4 855.0L510.3 955.0L546.0 866.4L581.9 866.0L617.6 868.0L653.5 908.5L689.3 940.4L725.2 997.0L761.1 945.0L796.8 962.0L832.7 955.0L868.6 958.0" fill="none" stroke="#000" stroke-width="2.4" stroke-linejoin="round"/>
<path d="M69.7 649.7L81.7 637.7L93.7 649.7L81.7 661.7Z" fill="#ef4049" stroke="#2a2a2a" stroke-width="0.9"/>
<path d="M105.6 730.5L117.6 718.5L129.6 730.5L117.6 742.5Z" fill="#ef4049" stroke="#2a2a2a" stroke-width="0.9"/>
<path d="M141.3 798.0L153.3 786.0L165.3 798.0L153.3 810.0Z" fill="#ef4049" stroke="#2a2a2a" stroke-width="0.9"/>
<path d="M177.4 737.0L189.4 725.0L201.4 737.0L189.4 749.0Z" fill="#ef4049" stroke="#2a2a2a" stroke-width="0.9"/>
<path d="M213.0 748.0L225.0 736.0L237.0 748.0L225.0 760.0Z" fill="#ef4049" stroke="#2a2a2a" stroke-width="0.9"/>
<path d="M248.9 867.0L260.9 855.0L272.9 867.0L260.9 879.0Z" fill="#ef4049" stroke="#2a2a2a" stroke-width="0.9"/>
<path d="M285.1 896.0L297.1 884.0L309.1 896.0L297.1 908.0Z" fill="#ef4049" stroke="#2a2a2a" stroke-width="0.9"/>
<path d="M320.7 794.0L332.7 782.0L344.7 794.0L332.7 806.0Z" fill="#ef4049" stroke="#2a2a2a" stroke-width="0.9"/>
<path d="M355.2 817.0L367.2 805.0L379.2 817.0L367.2 829.0Z" fill="#ef4049" stroke="#2a2a2a" stroke-width="0.9"/>
<path d="M390.7 830.3L402.7 818.3L414.7 830.3L402.7 842.3Z" fill="#ef4049" stroke="#2a2a2a" stroke-width="0.9"/>
<path d="M426.6 781.3L438.6 769.3L450.6 781.3L438.6 793.3Z" fill="#ef4049" stroke="#2a2a2a" stroke-width="0.9"/>
<path d="M462.4 855.0L474.4 843.0L486.4 855.0L474.4 867.0Z" fill="#ef4049" stroke="#2a2a2a" stroke-width="0.9"/>
<path d="M498.3 955.0L510.3 943.0L522.3 955.0L510.3 967.0Z" fill="#ef4049" stroke="#2a2a2a" stroke-width="0.9"/>
<path d="M534.0 866.4L546.0 854.4L558.0 866.4L546.0 878.4Z" fill="#ef4049" stroke="#2a2a2a" stroke-width="0.9"/>
<path d="M569.9 866.0L581.9 854.0L593.9 866.0L581.9 878.0Z" fill="#ef4049" stroke="#2a2a2a" stroke-width="0.9"/>
<path d="M605.6 868.0L617.6 856.0L629.6 868.0L617.6 880.0Z" fill="#ef4049" stroke="#2a2a2a" stroke-width="0.9"/>
<path d="M641.5 908.5L653.5 896.5L665.5 908.5L653.5 920.5Z" fill="#ef4049" stroke="#2a2a2a" stroke-width="0.9"/>
<path d="M677.3 940.4L689.3 928.4L701.3 940.4L689.3 952.4Z" fill="#ef4049" stroke="#2a2a2a" stroke-width="0.9"/>
<path d="M713.2 997.0L725.2 985.0L737.2 997.0L725.2 1009.0Z" fill="#ef4049" stroke="#2a2a2a" stroke-width="0.9"/>
<path d="M749.1 945.0L761.1 933.0L773.1 945.0L761.1 957.0Z" fill="#ef4049" stroke="#2a2a2a" stroke-width="0.9"/>
<path d="M784.8 962.0L796.8 950.0L808.8 962.0L796.8 974.0Z" fill="#ef4049" stroke="#2a2a2a" stroke-width="0.9"/>
<path d="M820.7 955.0L832.7 943.0L844.7 955.0L832.7 967.0Z" fill="#ef4049" stroke="#2a2a2a" stroke-width="0.9"/>
<path d="M856.6 958.0L868.6 946.0L880.6 958.0L868.6 970.0Z" fill="#ef4049" stroke="#2a2a2a" stroke-width="0.9"/>
<path d="M81.7 677.8L117.6 735.6L153.3 800.4L189.4 742.0L225.0 750.0L260.9 871.0L297.1 898.0L332.7 794.0L367.2 822.0L402.7 837.4L438.6 781.3L474.4 862.4L510.3 978.5L546.0 870.9L581.9 872.0L617.6 872.0L653.5 912.0L689.3 944.0L725.2 1016.0L761.1 948.0L796.8 965.0L832.7 960.0L868.6 963.3" fill="none" stroke="#000" stroke-width="2.4" stroke-linejoin="round"/>
<path d="M69.7 677.8L81.7 665.8L93.7 677.8L81.7 689.8Z" fill="#ef4049" stroke="#2a2a2a" stroke-width="0.9"/>
<path d="M105.6 735.6L117.6 723.6L129.6 735.6L117.6 747.6Z" fill="#ef4049" stroke="#2a2a2a" stroke-width="0.9"/>
<path d="M141.3 800.4L153.3 788.4L165.3 800.4L153.3 812.4Z" fill="#ef4049" stroke="#2a2a2a" stroke-width="0.9"/>
<path d="M177.4 742.0L189.4 730.0L201.4 742.0L189.4 754.0Z" fill="#ef4049" stroke="#2a2a2a" stroke-width="0.9"/>
<path d="M213.0 750.0L225.0 738.0L237.0 750.0L225.0 762.0Z" fill="#ef4049" stroke="#2a2a2a" stroke-width="0.9"/>
<path d="M248.9 871.0L260.9 859.0L272.9 871.0L260.9 883.0Z" fill="#ef4049" stroke="#2a2a2a" stroke-width="0.9"/>
<path d="M285.1 898.0L297.1 886.0L309.1 898.0L297.1 910.0Z" fill="#ef4049" stroke="#2a2a2a" stroke-width="0.9"/>
<path d="M320.7 794.0L332.7 782.0L344.7 794.0L332.7 806.0Z" fill="#ef4049" stroke="#2a2a2a" stroke-width="0.9"/>
<path d="M355.2 822.0L367.2 810.0L379.2 822.0L367.2 834.0Z" fill="#ef4049" stroke="#2a2a2a" stroke-width="0.9"/>
<path d="M390.7 837.4L402.7 825.4L414.7 837.4L402.7 849.4Z" fill="#ef4049" stroke="#2a2a2a" stroke-width="0.9"/>
<path d="M426.6 781.3L438.6 769.3L450.6 781.3L438.6 793.3Z" fill="#ef4049" stroke="#2a2a2a" stroke-width="0.9"/>
<path d="M462.4 862.4L474.4 850.4L486.4 862.4L474.4 874.4Z" fill="#ef4049" stroke="#2a2a2a" stroke-width="0.9"/>
<path d="M498.3 978.5L510.3 966.5L522.3 978.5L510.3 990.5Z" fill="#ef4049" stroke="#2a2a2a" stroke-width="0.9"/>
<path d="M534.0 870.9L546.0 858.9L558.0 870.9L546.0 882.9Z" fill="#ef4049" stroke="#2a2a2a" stroke-width="0.9"/>
<path d="M569.9 872.0L581.9 860.0L593.9 872.0L581.9 884.0Z" fill="#ef4049" stroke="#2a2a2a" stroke-width="0.9"/>
<path d="M605.6 872.0L617.6 860.0L629.6 872.0L617.6 884.0Z" fill="#ef4049" stroke="#2a2a2a" stroke-width="0.9"/>
<path d="M641.5 912.0L653.5 900.0L665.5 912.0L653.5 924.0Z" fill="#ef4049" stroke="#2a2a2a" stroke-width="0.9"/>
<path d="M677.3 944.0L689.3 932.0L701.3 944.0L689.3 956.0Z" fill="#ef4049" stroke="#2a2a2a" stroke-width="0.9"/>
<path d="M713.2 1016.0L725.2 1004.0L737.2 1016.0L725.2 1028.0Z" fill="#ef4049" stroke="#2a2a2a" stroke-width="0.9"/>
<path d="M749.1 948.0L761.1 936.0L773.1 948.0L761.1 960.0Z" fill="#ef4049" stroke="#2a2a2a" stroke-width="0.9"/>
<path d="M784.8 965.0L796.8 953.0L808.8 965.0L796.8 977.0Z" fill="#ef4049" stroke="#2a2a2a" stroke-width="0.9"/>
<path d="M820.7 960.0L832.7 948.0L844.7 960.0L832.7 972.0Z" fill="#ef4049" stroke="#2a2a2a" stroke-width="0.9"/>
<path d="M856.6 963.3L868.6 951.3L880.6 963.3L868.6 975.3Z" fill="#ef4049" stroke="#2a2a2a" stroke-width="0.9"/>
<path d="M81.7 693.1L117.6 743.2L153.3 802.0L189.4 745.0L225.0 750.0L260.9 878.0L297.1 900.0L332.7 794.0L367.2 828.8L402.7 840.0L438.6 815.8L474.4 868.0L510.3 997.1L546.0 874.0L581.9 876.0L617.6 876.8L653.5 920.0L689.3 950.0L725.2 1028.5L761.1 950.0L796.8 975.0L832.7 966.7L868.6 966.0" fill="none" stroke="#000" stroke-width="2.4" stroke-linejoin="round"/>
<path d="M69.7 693.1L81.7 681.1L93.7 693.1L81.7 705.1Z" fill="#ef4049" stroke="#2a2a2a" stroke-width="0.9"/>
<path d="M105.6 743.2L117.6 731.2L129.6 743.2L117.6 755.2Z" fill="#ef4049" stroke="#2a2a2a" stroke-width="0.9"/>
<path d="M141.3 802.0L153.3 790.0L165.3 802.0L153.3 814.0Z" fill="#ef4049" stroke="#2a2a2a" stroke-width="0.9"/>
<path d="M177.4 745.0L189.4 733.0L201.4 745.0L189.4 757.0Z" fill="#ef4049" stroke="#2a2a2a" stroke-width="0.9"/>
<path d="M213.0 750.0L225.0 738.0L237.0 750.0L225.0 762.0Z" fill="#ef4049" stroke="#2a2a2a" stroke-width="0.9"/>
<path d="M248.9 878.0L260.9 866.0L272.9 878.0L260.9 890.0Z" fill="#ef4049" stroke="#2a2a2a" stroke-width="0.9"/>
<path d="M285.1 900.0L297.1 888.0L309.1 900.0L297.1 912.0Z" fill="#ef4049" stroke="#2a2a2a" stroke-width="0.9"/>
<path d="M320.7 794.0L332.7 782.0L344.7 794.0L332.7 806.0Z" fill="#ef4049" stroke="#2a2a2a" stroke-width="0.9"/>
<path d="M355.2 828.8L367.2 816.8L379.2 828.8L367.2 840.8Z" fill="#ef4049" stroke="#2a2a2a" stroke-width="0.9"/>
<path d="M390.7 840.0L402.7 828.0L414.7 840.0L402.7 852.0Z" fill="#ef4049" stroke="#2a2a2a" stroke-width="0.9"/>
<path d="M426.6 815.8L438.6 803.8L450.6 815.8L438.6 827.8Z" fill="#ef4049" stroke="#2a2a2a" stroke-width="0.9"/>
<path d="M462.4 868.0L474.4 856.0L486.4 868.0L474.4 880.0Z" fill="#ef4049" stroke="#2a2a2a" stroke-width="0.9"/>
<path d="M498.3 997.1L510.3 985.1L522.3 997.1L510.3 1009.1Z" fill="#ef4049" stroke="#2a2a2a" stroke-width="0.9"/>
<path d="M534.0 874.0L546.0 862.0L558.0 874.0L546.0 886.0Z" fill="#ef4049" stroke="#2a2a2a" stroke-width="0.9"/>
<path d="M569.9 876.0L581.9 864.0L593.9 876.0L581.9 888.0Z" fill="#ef4049" stroke="#2a2a2a" stroke-width="0.9"/>
<path d="M605.6 876.8L617.6 864.8L629.6 876.8L617.6 888.8Z" fill="#ef4049" stroke="#2a2a2a" stroke-width="0.9"/>
<path d="M641.5 920.0L653.5 908.0L665.5 920.0L653.5 932.0Z" fill="#ef4049" stroke="#2a2a2a" stroke-width="0.9"/>
<path d="M677.3 950.0L689.3 938.0L701.3 950.0L689.3 962.0Z" fill="#ef4049" stroke="#2a2a2a" stroke-width="0.9"/>
<path d="M713.2 1028.5L725.2 1016.5L737.2 1028.5L725.2 1040.5Z" fill="#ef4049" stroke="#2a2a2a" stroke-width="0.9"/>
<path d="M749.1 950.0L761.1 938.0L773.1 950.0L761.1 962.0Z" fill="#ef4049" stroke="#2a2a2a" stroke-width="0.9"/>
<path d="M784.8 975.0L796.8 963.0L808.8 975.0L796.8 987.0Z" fill="#ef4049" stroke="#2a2a2a" stroke-width="0.9"/>
<path d="M820.7 966.7L832.7 954.7L844.7 966.7L832.7 978.7Z" fill="#ef4049" stroke="#2a2a2a" stroke-width="0.9"/>
<path d="M856.6 966.0L868.6 954.0L880.6 966.0L868.6 978.0Z" fill="#ef4049" stroke="#2a2a2a" stroke-width="0.9"/>
<path d="M81.7 709.6L117.6 767.5L153.3 858.7L189.4 763.5L225.0 771.0L260.9 884.4L297.1 902.7L332.7 821.1L367.2 856.6L402.7 873.5L438.6 829.0L474.4 896.9L510.3 1014.8L546.0 919.0L581.9 880.6L617.6 882.0L653.5 948.1L689.3 980.6L725.2 1028.5L761.1 955.0L796.8 988.0L832.7 968.0L868.6 968.0" fill="none" stroke="#000" stroke-width="2.4" stroke-linejoin="round"/>
<path d="M69.7 709.6L81.7 697.6L93.7 709.6L81.7 721.6Z" fill="#ef4049" stroke="#2a2a2a" stroke-width="0.9"/>
<path d="M105.6 767.5L117.6 755.5L129.6 767.5L117.6 779.5Z" fill="#ef4049" stroke="#2a2a2a" stroke-width="0.9"/>
<path d="M141.3 858.7L153.3 846.7L165.3 858.7L153.3 870.7Z" fill="#ef4049" stroke="#2a2a2a" stroke-width="0.9"/>
<path d="M177.4 763.5L189.4 751.5L201.4 763.5L189.4 775.5Z" fill="#ef4049" stroke="#2a2a2a" stroke-width="0.9"/>
<path d="M213.0 771.0L225.0 759.0L237.0 771.0L225.0 783.0Z" fill="#ef4049" stroke="#2a2a2a" stroke-width="0.9"/>
<path d="M248.9 884.4L260.9 872.4L272.9 884.4L260.9 896.4Z" fill="#ef4049" stroke="#2a2a2a" stroke-width="0.9"/>
<path d="M285.1 902.7L297.1 890.7L309.1 902.7L297.1 914.7Z" fill="#ef4049" stroke="#2a2a2a" stroke-width="0.9"/>
<path d="M320.7 821.1L332.7 809.1L344.7 821.1L332.7 833.1Z" fill="#ef4049" stroke="#2a2a2a" stroke-width="0.9"/>
<path d="M355.2 856.6L367.2 844.6L379.2 856.6L367.2 868.6Z" fill="#ef4049" stroke="#2a2a2a" stroke-width="0.9"/>
<path d="M390.7 873.5L402.7 861.5L414.7 873.5L402.7 885.5Z" fill="#ef4049" stroke="#2a2a2a" stroke-width="0.9"/>
<path d="M426.6 829.0L438.6 817.0L450.6 829.0L438.6 841.0Z" fill="#ef4049" stroke="#2a2a2a" stroke-width="0.9"/>
<path d="M462.4 896.9L474.4 884.9L486.4 896.9L474.4 908.9Z" fill="#ef4049" stroke="#2a2a2a" stroke-width="0.9"/>
<path d="M498.3 1014.8L510.3 1002.8L522.3 1014.8L510.3 1026.8Z" fill="#ef4049" stroke="#2a2a2a" stroke-width="0.9"/>
<path d="M534.0 919.0L546.0 907.0L558.0 919.0L546.0 931.0Z" fill="#ef4049" stroke="#2a2a2a" stroke-width="0.9"/>
<path d="M569.9 880.6L581.9 868.6L593.9 880.6L581.9 892.6Z" fill="#ef4049" stroke="#2a2a2a" stroke-width="0.9"/>
<path d="M605.6 882.0L617.6 870.0L629.6 882.0L617.6 894.0Z" fill="#ef4049" stroke="#2a2a2a" stroke-width="0.9"/>
<path d="M641.5 948.1L653.5 936.1L665.5 948.1L653.5 960.1Z" fill="#ef4049" stroke="#2a2a2a" stroke-width="0.9"/>
<path d="M677.3 980.6L689.3 968.6L701.3 980.6L689.3 992.6Z" fill="#ef4049" stroke="#2a2a2a" stroke-width="0.9"/>
<path d="M713.2 1028.5L725.2 1016.5L737.2 1028.5L725.2 1040.5Z" fill="#ef4049" stroke="#2a2a2a" stroke-width="0.9"/>
<path d="M749.1 955.0L761.1 943.0L773.1 955.0L761.1 967.0Z" fill="#ef4049" stroke="#2a2a2a" stroke-width="0.9"/>
<path d="M784.8 988.0L796.8 976.0L808.8 988.0L796.8 1000.0Z" fill="#ef4049" stroke="#2a2a2a" stroke-width="0.9"/>
<path d="M820.7 968.0L832.7 956.0L844.7 968.0L832.7 980.0Z" fill="#ef4049" stroke="#2a2a2a" stroke-width="0.9"/>
<path d="M856.6 968.0L868.6 956.0L880.6 968.0L868.6 980.0Z" fill="#ef4049" stroke="#2a2a2a" stroke-width="0.9"/>
<path d="M81.7 659.0L117.6 760.3L153.3 817.5L189.4 745.7L225.0 782.5L260.9 881.0L297.1 897.0L367.2 822.6L402.7 838.7L438.6 902.7L474.4 860.0L510.3 1041.3L546.0 878.5L581.9 862.5L617.6 867.6L653.5 928.7L689.3 960.6L725.2 1025.0L761.1 971.5L796.8 960.0L832.7 977.5L868.6 974.0" fill="none" stroke="#000" stroke-width="2.4" stroke-linejoin="round"/>
<path d="M81.7 645.5L93.8 672.5L69.6 672.5Z" fill="#2f79be" stroke="#2a2a2a" stroke-width="0.9" stroke-linejoin="miter"/>
<path d="M117.6 746.8L129.7 773.8L105.5 773.8Z" fill="#2f79be" stroke="#2a2a2a" stroke-width="0.9" stroke-linejoin="miter"/>
<path d="M153.3 804.0L165.4 831.0L141.2 831.0Z" fill="#2f79be" stroke="#2a2a2a" stroke-width="0.9" stroke-linejoin="miter"/>
<path d="M189.4 732.2L201.5 759.2L177.3 759.2Z" fill="#2f79be" stroke="#2a2a2a" stroke-width="0.9" stroke-linejoin="miter"/>
<path d="M225.0 769.0L237.1 796.0L212.9 796.0Z" fill="#2f79be" stroke="#2a2a2a" stroke-width="0.9" stroke-linejoin="miter"/>
<path d="M260.9 867.5L273.0 894.5L248.8 894.5Z" fill="#2f79be" stroke="#2a2a2a" stroke-width="0.9" stroke-linejoin="miter"/>
<path d="M297.1 883.5L309.2 910.5L285.0 910.5Z" fill="#2f79be" stroke="#2a2a2a" stroke-width="0.9" stroke-linejoin="miter"/>
<path d="M367.2 809.1L379.3 836.1L355.1 836.1Z" fill="#2f79be" stroke="#2a2a2a" stroke-width="0.9" stroke-linejoin="miter"/>
<path d="M402.7 825.2L414.8 852.2L390.6 852.2Z" fill="#2f79be" stroke="#2a2a2a" stroke-width="0.9" stroke-linejoin="miter"/>
<path d="M438.6 889.2L450.7 916.2L426.5 916.2Z" fill="#2f79be" stroke="#2a2a2a" stroke-width="0.9" stroke-linejoin="miter"/>
<path d="M474.4 846.5L486.5 873.5L462.3 873.5Z" fill="#2f79be" stroke="#2a2a2a" stroke-width="0.9" stroke-linejoin="miter"/>
<path d="M510.3 1027.8L522.4 1054.8L498.2 1054.8Z" fill="#2f79be" stroke="#2a2a2a" stroke-width="0.9" stroke-linejoin="miter"/>
<path d="M546.0 865.0L558.1 892.0L533.9 892.0Z" fill="#2f79be" stroke="#2a2a2a" stroke-width="0.9" stroke-linejoin="miter"/>
<path d="M581.9 849.0L594.0 876.0L569.8 876.0Z" fill="#2f79be" stroke="#2a2a2a" stroke-width="0.9" stroke-linejoin="miter"/>
<path d="M617.6 854.1L629.7 881.1L605.5 881.1Z" fill="#2f79be" stroke="#2a2a2a" stroke-width="0.9" stroke-linejoin="miter"/>
<path d="M653.5 915.2L665.6 942.2L641.4 942.2Z" fill="#2f79be" stroke="#2a2a2a" stroke-width="0.9" stroke-linejoin="miter"/>
<path d="M689.3 947.1L701.4 974.1L677.2 974.1Z" fill="#2f79be" stroke="#2a2a2a" stroke-width="0.9" stroke-linejoin="miter"/>
<path d="M725.2 1011.5L737.3 1038.5L713.1 1038.5Z" fill="#2f79be" stroke="#2a2a2a" stroke-width="0.9" stroke-linejoin="miter"/>
<path d="M761.1 958.0L773.2 985.0L749.0 985.0Z" fill="#2f79be" stroke="#2a2a2a" stroke-width="0.9" stroke-linejoin="miter"/>
<path d="M796.8 946.5L808.9 973.5L784.7 973.5Z" fill="#2f79be" stroke="#2a2a2a" stroke-width="0.9" stroke-linejoin="miter"/>
<path d="M832.7 964.0L844.8 991.0L820.6 991.0Z" fill="#2f79be" stroke="#2a2a2a" stroke-width="0.9" stroke-linejoin="miter"/>
<path d="M868.6 960.5L880.7 987.5L856.5 987.5Z" fill="#2f79be" stroke="#2a2a2a" stroke-width="0.9" stroke-linejoin="miter"/>
<path d="M81.7 659.0L117.6 746.8L153.3 817.5L189.4 736.0L225.0 782.5L260.9 876.5L297.1 897.0L367.2 822.6L402.7 838.7L438.6 887.8L474.4 860.0L510.3 1041.3L546.0 878.5L581.9 862.5L617.6 865.0L653.5 928.7L689.3 960.6L725.2 1025.0L761.1 971.5L796.8 956.0L832.7 977.5L868.6 974.0" fill="none" stroke="#000" stroke-width="2.4" stroke-linejoin="round"/>
<path d="M81.7 645.5L93.8 672.5L69.6 672.5Z" fill="#2f79be" stroke="#2a2a2a" stroke-width="0.9" stroke-linejoin="miter"/>
<path d="M117.6 733.3L129.7 760.3L105.5 760.3Z" fill="#2f79be" stroke="#2a2a2a" stroke-width="0.9" stroke-linejoin="miter"/>
<path d="M153.3 804.0L165.4 831.0L141.2 831.0Z" fill="#2f79be" stroke="#2a2a2a" stroke-width="0.9" stroke-linejoin="miter"/>
<path d="M189.4 722.5L201.5 749.5L177.3 749.5Z" fill="#2f79be" stroke="#2a2a2a" stroke-width="0.9" stroke-linejoin="miter"/>
<path d="M225.0 769.0L237.1 796.0L212.9 796.0Z" fill="#2f79be" stroke="#2a2a2a" stroke-width="0.9" stroke-linejoin="miter"/>
<path d="M260.9 863.0L273.0 890.0L248.8 890.0Z" fill="#2f79be" stroke="#2a2a2a" stroke-width="0.9" stroke-linejoin="miter"/>
<path d="M297.1 883.5L309.2 910.5L285.0 910.5Z" fill="#2f79be" stroke="#2a2a2a" stroke-width="0.9" stroke-linejoin="miter"/>
<path d="M367.2 809.1L379.3 836.1L355.1 836.1Z" fill="#2f79be" stroke="#2a2a2a" stroke-width="0.9" stroke-linejoin="miter"/>
<path d="M402.7 825.2L414.8 852.2L390.6 852.2Z" fill="#2f79be" stroke="#2a2a2a" stroke-width="0.9" stroke-linejoin="miter"/>
<path d="M438.6 874.3L450.7 901.3L426.5 901.3Z" fill="#2f79be" stroke="#2a2a2a" stroke-width="0.9" stroke-linejoin="miter"/>
<path d="M474.4 846.5L486.5 873.5L462.3 873.5Z" fill="#2f79be" stroke="#2a2a2a" stroke-width="0.9" stroke-linejoin="miter"/>
<path d="M510.3 1027.8L522.4 1054.8L498.2 1054.8Z" fill="#2f79be" stroke="#2a2a2a" stroke-width="0.9" stroke-linejoin="miter"/>
<path d="M546.0 865.0L558.1 892.0L533.9 892.0Z" fill="#2f79be" stroke="#2a2a2a" stroke-width="0.9" stroke-linejoin="miter"/>
<path d="M581.9 849.0L594.0 876.0L569.8 876.0Z" fill="#2f79be" stroke="#2a2a2a" stroke-width="0.9" stroke-linejoin="miter"/>
<path d="M617.6 851.5L629.7 878.5L605.5 878.5Z" fill="#2f79be" stroke="#2a2a2a" stroke-width="0.9" stroke-linejoin="miter"/>
<path d="M653.5 915.2L665.6 942.2L641.4 942.2Z" fill="#2f79be" stroke="#2a2a2a" stroke-width="0.9" stroke-linejoin="miter"/>
<path d="M689.3 947.1L701.4 974.1L677.2 974.1Z" fill="#2f79be" stroke="#2a2a2a" stroke-width="0.9" stroke-linejoin="miter"/>
<path d="M725.2 1011.5L737.3 1038.5L713.1 1038.5Z" fill="#2f79be" stroke="#2a2a2a" stroke-width="0.9" stroke-linejoin="miter"/>
<path d="M761.1 958.0L773.2 985.0L749.0 985.0Z" fill="#2f79be" stroke="#2a2a2a" stroke-width="0.9" stroke-linejoin="miter"/>
<path d="M796.8 942.5L808.9 969.5L784.7 969.5Z" fill="#2f79be" stroke="#2a2a2a" stroke-width="0.9" stroke-linejoin="miter"/>
<path d="M832.7 964.0L844.8 991.0L820.6 991.0Z" fill="#2f79be" stroke="#2a2a2a" stroke-width="0.9" stroke-linejoin="miter"/>
<path d="M868.6 960.5L880.7 987.5L856.5 987.5Z" fill="#2f79be" stroke="#2a2a2a" stroke-width="0.9" stroke-linejoin="miter"/>
<path d="M81.7 591.3L117.6 760.3L153.3 756.0L189.4 745.7L225.0 764.0L260.9 881.5L297.1 880.0L367.2 805.6L402.7 831.0L438.6 716.4L474.4 847.0L510.3 951.0L546.0 865.7L581.9 853.6L617.6 854.9L653.5 905.8L689.3 945.4L725.2 1011.0L761.1 955.0L796.8 971.3L832.7 953.0L868.6 955.0" fill="none" stroke="#000" stroke-width="2.4" stroke-linejoin="round"/>
<path d="M81.7 577.8L93.8 604.8L69.6 604.8Z" fill="#2f79be" stroke="#2a2a2a" stroke-width="0.9" stroke-linejoin="miter"/>
<path d="M117.6 746.8L129.7 773.8L105.5 773.8Z" fill="#2f79be" stroke="#2a2a2a" stroke-width="0.9" stroke-linejoin="miter"/>
<path d="M153.3 742.5L165.4 769.5L141.2 769.5Z" fill="#2f79be" stroke="#2a2a2a" stroke-width="0.9" stroke-linejoin="miter"/>
<path d="M189.4 732.2L201.5 759.2L177.3 759.2Z" fill="#2f79be" stroke="#2a2a2a" stroke-width="0.9" stroke-linejoin="miter"/>
<path d="M225.0 750.5L237.1 777.5L212.9 777.5Z" fill="#2f79be" stroke="#2a2a2a" stroke-width="0.9" stroke-linejoin="miter"/>
<path d="M260.9 868.0L273.0 895.0L248.8 895.0Z" fill="#2f79be" stroke="#2a2a2a" stroke-width="0.9" stroke-linejoin="miter"/>
<path d="M297.1 866.5L309.2 893.5L285.0 893.5Z" fill="#2f79be" stroke="#2a2a2a" stroke-width="0.9" stroke-linejoin="miter"/>
<path d="M367.2 792.1L379.3 819.1L355.1 819.1Z" fill="#2f79be" stroke="#2a2a2a" stroke-width="0.9" stroke-linejoin="miter"/>
<path d="M402.7 817.5L414.8 844.5L390.6 844.5Z" fill="#2f79be" stroke="#2a2a2a" stroke-width="0.9" stroke-linejoin="miter"/>
<path d="M438.6 702.9L450.7 729.9L426.5 729.9Z" fill="#2f79be" stroke="#2a2a2a" stroke-width="0.9" stroke-linejoin="miter"/>
<path d="M474.4 833.5L486.5 860.5L462.3 860.5Z" fill="#2f79be" stroke="#2a2a2a" stroke-width="0.9" stroke-linejoin="miter"/>
<path d="M510.3 937.5L522.4 964.5L498.2 964.5Z" fill="#2f79be" stroke="#2a2a2a" stroke-width="0.9" stroke-linejoin="miter"/>
<path d="M546.0 852.2L558.1 879.2L533.9 879.2Z" fill="#2f79be" stroke="#2a2a2a" stroke-width="0.9" stroke-linejoin="miter"/>
<path d="M581.9 840.1L594.0 867.1L569.8 867.1Z" fill="#2f79be" stroke="#2a2a2a" stroke-width="0.9" stroke-linejoin="miter"/>
<path d="M617.6 841.4L629.7 868.4L605.5 868.4Z" fill="#2f79be" stroke="#2a2a2a" stroke-width="0.9" stroke-linejoin="miter"/>
<path d="M653.5 892.3L665.6 919.3L641.4 919.3Z" fill="#2f79be" stroke="#2a2a2a" stroke-width="0.9" stroke-linejoin="miter"/>
<path d="M689.3 931.9L701.4 958.9L677.2 958.9Z" fill="#2f79be" stroke="#2a2a2a" stroke-width="0.9" stroke-linejoin="miter"/>
<path d="M725.2 997.5L737.3 1024.5L713.1 1024.5Z" fill="#2f79be" stroke="#2a2a2a" stroke-width="0.9" stroke-linejoin="miter"/>
<path d="M761.1 941.5L773.2 968.5L749.0 968.5Z" fill="#2f79be" stroke="#2a2a2a" stroke-width="0.9" stroke-linejoin="miter"/>
<path d="M796.8 957.8L808.9 984.8L784.7 984.8Z" fill="#2f79be" stroke="#2a2a2a" stroke-width="0.9" stroke-linejoin="miter"/>
<path d="M832.7 939.5L844.8 966.5L820.6 966.5Z" fill="#2f79be" stroke="#2a2a2a" stroke-width="0.9" stroke-linejoin="miter"/>
<path d="M868.6 941.5L880.7 968.5L856.5 968.5Z" fill="#2f79be" stroke="#2a2a2a" stroke-width="0.9" stroke-linejoin="miter"/>
</svg>
</body></html>
